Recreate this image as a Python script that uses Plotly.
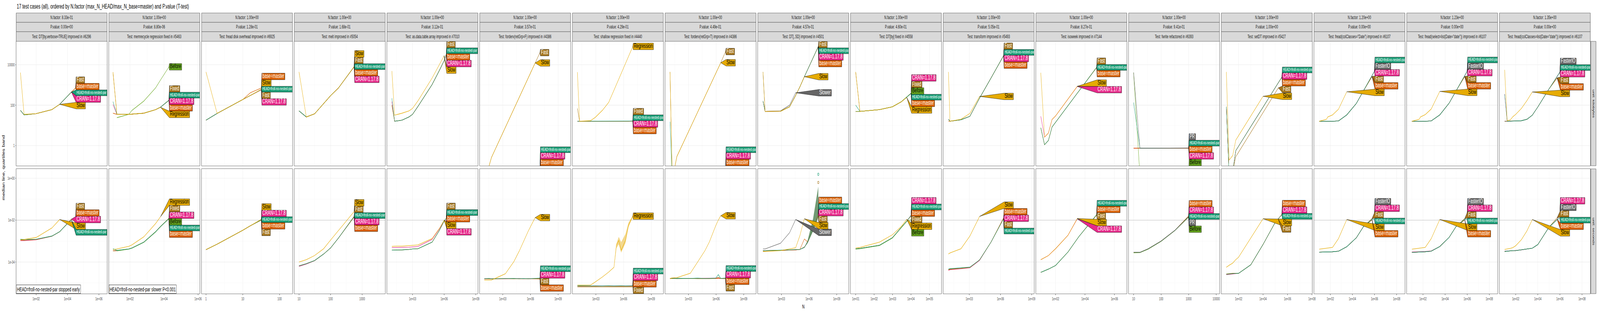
import math
import plotly.graph_objects as go

# ---------------------------------------------------------------- text / names
TITLE = "17 test cases (all), ordered by N.factor (max_N_HEAD/max_N_base=master) and P.value (T-test)"
HEAD = "HEAD=froll-no-nested-par"
CRAN = "CRAN=1.17.8"
BASE = "base=master"

N_FACTOR = ["8.33e-01", "1.00e+00", "1.00e+00", "1.00e+00", "1.00e+00", "1.00e+00", "1.00e+00",
            "1.00e+00", "1.00e+00", "1.00e+00", "1.00e+00", "1.00e+00", "1.00e+00", "1.00e+00",
            "1.20e+00", "1.23e+00", "1.35e+00"]
P_VALUE = ["0.00e+00", "8.80e-06", "1.28e-01", "1.68e-01", "3.12e-01", "3.57e-01", "4.29e-01",
           "4.49e-01", "4.57e-01", "4.60e-01", "5.05e-01", "8.27e-01", "9.41e-01", "1.00e+00",
           "0.00e+00", "0.00e+00", "0.00e+00"]
TEST = ["DT[by,verbose=TRUE] improved in #6296", "memrecycle regression fixed in #5463",
        "fread disk overhead improved in #6925", "melt improved in #5054",
        "as.data.table.array improved in #7010", "forderv(retGrp=F) improved in #4386",
        "shallow regression fixed in #4440", "forderv(retGrp=T) improved in #4386",
        "DT[,.SD] improved in #4501", "DT[by] fixed in #4558", "transform improved in #5493",
        "isoweek improved in #7144", "fwrite refactored in #6393", "setDT improved in #5427",
        'fread(colClasses="Date") improved in #6107',
        'fread(select=list(Date="date")) improved in #6107',
        'fread(colClasses=list(Date="date")) improved in #6107']
ROW_UNITS = ["unit: kilobytes", "unit: seconds"]
NOTES = {0: HEAD + " stopped early", 1: HEAD + " slower P&lt;0.001"}
HLINE_SECONDS = 0.01

# ---------------------------------------------------------------- data
p01_N = [10, 17, 100, 1000, 3160, 10000, 17800, 33000]
p01_kb = {
    "Slow": [4100, 35, 38, 60, 110, None, None, None],
    HEAD: [55, 33, 38, 60, 110, 280, 450, None],
    CRAN: [55, 33, 38, 60, 110, 280, 440, None],
    BASE: [55, 33, 38, 60, 110, 280, 450, 700],
    "Fast": [55, 33, 38, 60, 110, 280, 450, 730],
}
p01_sec = {
    "Slow": [1.15e-3, 1.2e-3, 1.48e-3, 4.2e-3, 1.07e-2, None, None, None],
    HEAD: [1.23e-3, 1.2e-3, 1.23e-3, 1.74e-3, 2.8e-3, 6.9e-3, 1.02e-2, None],
    CRAN: [1.05e-3, 1.05e-3, 1.15e-3, 1.7e-3, 2.8e-3, 6.9e-3, 1.12e-2, None],
    BASE: [1.1e-3, 1.1e-3, 1.18e-3, 1.72e-3, 2.8e-3, 7.0e-3, 1.1e-2, 1.15e-2],
    "Fast": [1.15e-3, 1.1e-3, 1.2e-3, 1.72e-3, 2.8e-3, 7.0e-3, 1.1e-2, 1.18e-2],
}

p02_N = [10, 17, 85, 130, 650, 3200, 6300, 19500]
p02_kb = {
    "Regression": [4300, 35, 35, 36, 40, 60, 78, None],
    HEAD: [150, 35, 35, 36, 40, 60, 80, 176],
    CRAN: [107, 35, 35, 36, 40, 60, 80, 174],
    BASE: [40, 35, 35, 36, 40, 60, 80, 172],
    "Fixed": [4300, 35, 35, 36, 40, 60, 80, 178],
    "Before": [None, 24, 35, 55, 160, 720, 1800, 7900],
}
p02_sec = {
    "Regression": [3.9e-4, 4.2e-4, 5.6e-4, 6.6e-4, 1.6e-3, 6.9e-3, 1.48e-2, None],
    HEAD: [4.3e-4, 3.6e-4, 4.2e-4, 4.7e-4, 8.9e-4, 2.8e-3, 5.0e-3, 1.18e-2],
    CRAN: [3.4e-4, 3.5e-4, 4.2e-4, 4.7e-4, 8.9e-4, 2.8e-3, 5.0e-3, 1.22e-2],
    BASE: [3.4e-4, 3.5e-4, 4.2e-4, 4.7e-4, 8.9e-4, 2.8e-3, 5.0e-3, 1.16e-2],
    "Fixed": [3.4e-4, 3.5e-4, 4.2e-4, 4.7e-4, 8.9e-4, 2.8e-3, 5.0e-3, 1.24e-2],
    "Before": [None, 3.4e-4, 4.1e-4, 4.6e-4, 8.7e-4, 2.7e-3, 5.0e-3, 1.2e-2],
}

p03_N = [1, 2, 10, 16, 32]
p03_kb = {
    "Slow": [4400, 39, 190, 300, 610],
    BASE: [18, 39, 190, 410, 710],
    HEAD: [18, 39, 190, 300, 600],
    "Fast": [18, 39, 190, 300, 590],
    CRAN: [18, 39, 190, 300, 580],
}
p03_sec = {
    "Slow": [3.9e-4, 7.1e-4, 3.3e-3, 5.4e-3, 1.1e-2],
    CRAN: [3.9e-4, 7.1e-4, 3.3e-3, 5.4e-3, 1.08e-2],
    HEAD: [3.9e-4, 7.1e-4, 3.3e-3, 5.4e-3, 1.05e-2],
    BASE: [3.9e-4, 7.1e-4, 3.3e-3, 5.4e-3, 1.03e-2],
    "Fast": [3.9e-4, 7.1e-4, 3.3e-3, 5.4e-3, 1.0e-2],
}

p04_N = [10, 17, 31, 60, 100, 178, 560]
p04_kb = {
    "Slow": [4400, 26, 37, 120, 295, 710, 8300],
    "Fast": [52, 26, 37, 120, 295, 710, 8200],
    HEAD: [52, 26, 37, 120, 295, 710, 8100],
    BASE: [52, 26, 37, 120, 295, 710, 8000],
    CRAN: [52, 26, 37, 120, 295, 710, 7900],
}
p04_sec = {
    "Slow": [1.0e-4, 1.29e-4, 2.04e-4, 4.3e-4, 1.12e-3, 3.2e-3, 2.6e-2],
    "Fast": [6.6e-5, 8.3e-5, 1.17e-4, 2.4e-4, 4.7e-4, 1.4e-3, 1.55e-2],
    HEAD: [6.6e-5, 8.3e-5, 1.17e-4, 2.4e-4, 4.7e-4, 1.4e-3, 1.5e-2],
    CRAN: [6.2e-5, 8.0e-5, 1.15e-4, 2.4e-4, 4.7e-4, 1.4e-3, 1.46e-2],
    BASE: [6.6e-5, 8.3e-5, 1.17e-4, 2.4e-4, 4.7e-4, 1.4e-3, 1.42e-2],
}

p05_N = [11, 20, 100, 460, 1000, 3200, 72000, 350000, 1000000, 1600000]
p05_kb = {
    "Slow": [4900, 32, 40, 52, 69, 160, 2200, 10000, 28000, None],
    HEAD: [220, 16, 18, 26, 35, 85, 1050, 5200, 16000, 33000],
    CRAN: [150, 16, 18, 26, 35, 85, 1050, 5200, 16000, 31000],
    BASE: [100, 16, 18, 26, 35, 85, 1050, 5200, 16000, 32000],
    "Fast": [100, 16, 18, 26, 35, 85, 1050, 5200, 16000, 34000],
}
p05_sec = {
    "Slow": [5.6e-4, 5.7e-4, 5.75e-4, 6.0e-4, 6.3e-4, 6.5e-4, 1.32e-3, 4.0e-3, 1.0e-2, None],
    CRAN: [4.9e-4, 4.9e-4, 5.0e-4, 5.1e-4, 5.2e-4, 5.5e-4, 1.2e-3, 3.8e-3, 9.0e-3, 9.5e-3],
    HEAD: [3.7e-4, 3.7e-4, 3.8e-4, 4.0e-4, 4.2e-4, 4.3e-4, 8.9e-4, 3.2e-3, 9.0e-3, 1.22e-2],
    BASE: [3.7e-4, 3.7e-4, 3.8e-4, 4.0e-4, 4.2e-4, 4.3e-4, 8.9e-4, 3.2e-3, 9.0e-3, 1.2e-2],
    "Fast": [3.7e-4, 3.7e-4, 3.8e-4, 4.0e-4, 4.2e-4, 4.3e-4, 8.9e-4, 3.2e-3, 9.0e-3, 1.25e-2],
}

p06_N = [10, 33, 60, 1900, 16000, 60000, 174000, 575000, 3200000, 10700000]
p06_kb = {
    "Slow": [0.02, 0.1, 0.26, 8.0, 66, 245, 700, 2300, 12300, None],
    "Fast": [0.02, 0.1, 0.26, 8.0, 66, 245, 700, 2300, 12300, 40000],
    HEAD: [0.02, 0.02, 0.02, 0.02, 0.02, 0.02, 0.02, 0.02, 0.02, 0.022],
    CRAN: [0.02, 0.02, 0.02, 0.02, 0.02, 0.02, 0.02, 0.02, 0.02, 0.021],
    BASE: [0.02, 0.02, 0.02, 0.02, 0.02, 0.02, 0.02, 0.02, 0.02, 0.020],
}
p06_sec = {
    "Slow": [1.38e-5, 1.38e-5, 1.38e-5, 2.75e-5, 1.05e-4, 3.3e-4, 9.5e-4, 3.0e-3, 1.32e-2, None],
    HEAD: [1.6e-5, 1.66e-5, 1.58e-5, 1.62e-5, 1.66e-5, 1.6e-5, 1.64e-5, 1.6e-5, 1.66e-5, 1.70e-5],
    CRAN: [1.55e-5, 1.6e-5, 1.62e-5, 1.58e-5, 1.6e-5, 1.63e-5, 1.58e-5, 1.62e-5, 1.6e-5, 1.65e-5],
    "Fast": [1.62e-5, 1.58e-5, 1.6e-5, 1.64e-5, 1.58e-5, 1.62e-5, 1.6e-5, 1.58e-5, 1.62e-5, 1.6e-5],
    BASE: [1.58e-5, 1.6e-5, 1.56e-5, 1.6e-5, 1.62e-5, 1.58e-5, 1.6e-5, 1.62e-5, 1.58e-5, 1.55e-5],
}

p07_N = [10, 17, 260, 870, 5200, 24000, 91000, 166000, 300000, 550000, 1600000, 3400000, 10000000]
p07_kb = {
    "Regression": [4300, 16, 17, 25, 56, 135, 550, 1050, 2000, 3700, 11500, 25700, 81000],
    "Fixed": [69, 16, 16, 16, 16, 16, 16, 16, 16, 16, 16, 16, 16.6],
    HEAD: [16, 16, 16, 16, 16, 16, 16, 16, 16, 16, 16, 16, 16.4],
    CRAN: [16, 16, 16, 16, 16, 16, 16, 16, 16, 16, 16, 16, 16.2],
    BASE: [16, 16, 16, 16, 16, 16, 16, 16, 16, 16, 16, 16, 16.0],
}
p07_sec = {
    "Regression": [7.9e-6, 7.9e-6, 7.9e-6, 1.12e-5, 1.95e-5, 3.3e-5, 5.6e-5, 6.3e-4, 1.07e-3,
                   3.6e-4, 1.07e-3, 5.75e-3, 1.55e-2],
    HEAD: [7.2e-6, 7.4e-6, 7.2e-6, 7.3e-6, 7.2e-6, 7.4e-6, 7.2e-6, 7.3e-6, 7.2e-6, 7.4e-6,
           7.2e-6, 7.3e-6, 7.4e-6],
    CRAN: [7.2e-6, 7.2e-6, 7.3e-6, 7.2e-6, 7.3e-6, 7.2e-6, 7.3e-6, 7.2e-6, 7.3e-6, 7.2e-6,
           7.3e-6, 7.2e-6, 7.2e-6],
    BASE: [7.1e-6, 7.0e-6, 7.1e-6, 7.0e-6, 7.1e-6, 7.0e-6, 7.1e-6, 7.0e-6, 7.1e-6, 7.0e-6,
           7.1e-6, 7.0e-6, 7.0e-6],
    "Fixed": [6.5e-6, 6.5e-6, 6.5e-6, 6.5e-6, 6.5e-6, 6.5e-6, 6.5e-6, 6.5e-6, 6.5e-6, 6.5e-6,
              6.5e-6, 6.5e-6, 6.5e-6],
}
# quartile band of the Regression timing in panel 7 (same N grid)
p07_sec_reg_q25 = [None, None, None, None, None, None, 5.6e-5, 4.5e-4, 7.0e-4, 2.8e-4, 8.0e-4, 4.5e-3, 1.45e-2]
p07_sec_reg_q75 = [None, None, None, None, None, None, 5.6e-5, 7.5e-4, 1.6e-3, 9.0e-4, 2.2e-3, 7.5e-3, 1.65e-2]

p08_N = [10, 17, 32, 56, 1600, 10000, 62000, 186000, 910000, 1740000, 3200000, 10700000]
p08_kb = {
    "Slow": [4400, 0.05, 0.08, 0.29, 7.6, 46, 270, 800, 3800, 7100, 12600, None],
    "Fast": [4400, 0.05, 0.08, 0.29, 7.6, 46, 270, 800, 3800, 7100, 12600, 45000],
    HEAD: [15, 0.02, 0.02, 0.02, 0.02, 0.02, 0.02, 0.02, 0.02, 0.02, 0.02, 0.022],
    CRAN: [0.02, 0.02, 0.02, 0.02, 0.02, 0.02, 0.02, 0.02, 0.02, 0.02, 0.02, 0.021],
    BASE: [0.02, 0.02, 0.02, 0.02, 0.02, 0.02, 0.02, 0.02, 0.02, 0.02, 0.02, 0.020],
}
p08_sec = {
    "Slow": [1.66e-5, 1.74e-5, 1.78e-5, 1.8e-5, 2.9e-5, 1.0e-4, 3.5e-4, 9.1e-4, 5.4e-3, 1.0e-2,
             1.62e-2, None],
    HEAD: [1.66e-5, 1.7e-5, 1.64e-5, 1.68e-5, 1.66e-5, 1.7e-5, 1.64e-5, 1.68e-5, 1.7e-5, 2.5e-5,
           1.66e-5, 1.72e-5],
    CRAN: [1.62e-5, 1.66e-5, 1.7e-5, 1.64e-5, 1.66e-5, 1.62e-5, 1.68e-5, 1.64e-5, 1.66e-5,
           1.7e-5, 1.64e-5, 1.68e-5],
    BASE: [1.64e-5, 1.62e-5, 1.66e-5, 1.68e-5, 1.62e-5, 1.66e-5, 1.64e-5, 1.66e-5, 1.62e-5,
           1.66e-5, 1.64e-5, 1.64e-5],
    "Fast": [1.6e-5, 1.64e-5, 1.62e-5, 1.6e-5, 1.64e-5, 1.6e-5, 1.62e-5, 1.6e-5, 1.64e-5,
             1.9e-5, 1.62e-5, 1.6e-5],
}

p09_N = [10, 17, 800, 7600, 35000, 100000, 310000, 710000, 2750000, 10000000]
p09_kb = {
    "Slow": [4400, 49, 50, 83, 300, 800, 2570, None, None, None],
    "Slower": [4400, 49, 52, 100, 410, None, None, None, None, None],
    HEAD: [160, 49, 50, 83, 300, 800, 2570, 5800, 22000, 80000],
    CRAN: [160, 49, 50, 83, 300, 800, 2570, 5800, 22000, 79000],
    BASE: [160, 49, 50, 83, 300, 800, 2570, 5800, 22000, 78000],
    "Fast": [160, 49, 50, 83, 300, 800, 2570, 5800, 22000, 81000],
}
p09_sec = {
    HEAD: [3.5e-4, 3.5e-4, 3.7e-4, 3.8e-4, 3.9e-4, 4.0e-4, 5.0e-4, 9.1e-4, 4.0e-3, 1.8e-2],
    CRAN: [3.4e-4, 3.5e-4, 3.6e-4, 3.7e-4, 3.8e-4, 4.0e-4, 5.0e-4, 9.1e-4, 4.0e-3, 1.7e-2],
    "Fast": [3.5e-4, 3.5e-4, 3.6e-4, 3.8e-4, 3.9e-4, 4.0e-4, 5.2e-4, 9.1e-4, 4.0e-3, 1.6e-2],
    BASE: [3.4e-4, 3.5e-4, 3.6e-4, 3.7e-4, 3.8e-4, 4.0e-4, 1.26e-3, 9.1e-4, 4.0e-3, 2.0e-2],
    "Slower": [4.2e-4, 4.2e-4, 7.9e-4, 2.5e-3, 1.07e-2, None, None, None, None, None],
    "Slow": [3.2e-4, 3.2e-4, 3.5e-4, 4.2e-4, 4.8e-4, 1.8e-3, 1.17e-2, None, None, None],
}
# quartile band of the HEAD timing in panel 9 and its two outlying maxima
p09_sec_head_q25 = [None, None, None, None, None, None, 5.0e-4, 8.0e-4, 3.0e-3, 1.3e-2]
p09_sec_head_q75 = [None, None, None, None, None, None, 5.0e-4, 1.1e-3, 1.2e-2, 4.0e-1]
p09_sec_outlier_N = [10000000, 10000000]
p09_sec_outlier_s = [1.55, 0.63]
p09_sec_outlier_series = [HEAD, "Fast"]

p10_N = [10, 17, 195, 980, 3000, 5900, 10200]
p10_kb = {
    "Regression": [4400, 49, 60, 83, 148, 240, None],
    HEAD: [100, 49, 60, 83, 148, 250, 385],
    CRAN: [49, 49, 60, 83, 148, 250, 400],
    BASE: [49, 49, 60, 83, 148, 250, 380],
    "Fixed": [4400, 49, 60, 83, 148, 250, 395],
    "Before": [49, 49, 60, 83, 148, 250, 390],
}
p10_sec = {
    "Regression": [4.7e-4, 5.0e-4, 8.9e-4, 2.0e-3, 5.0e-3, 1.1e-2, None],
    HEAD: [4.3e-4, 4.5e-4, 6.3e-4, 1.45e-3, 4.5e-3, 8.9e-3, 1.7e-2],
    CRAN: [4.2e-4, 4.4e-4, 6.2e-4, 1.45e-3, 4.5e-3, 8.9e-3, 1.75e-2],
    BASE: [4.3e-4, 4.5e-4, 6.3e-4, 1.45e-3, 4.5e-3, 8.9e-3, 1.65e-2],
    "Fixed": [4.3e-4, 4.5e-4, 6.3e-4, 1.45e-3, 4.5e-3, 8.9e-3, 1.6e-2],
    "Before": [4.1e-4, 4.3e-4, 6.1e-4, 1.4e-3, 4.4e-3, 8.7e-3, 1.05e-2],
}

p11_N = [10, 14, 160, 1150, 9800, 126000, 2000000]
p11_kb = {
    "Slow": [4400, 16, 20, 39, 270, None, None],
    HEAD: [20, 16, 19, 28, 224, 2240, 28500],
    CRAN: [20, 16, 19, 28, 224, 2240, 28000],
    BASE: [16, 16, 19, 28, 224, 2240, 27500],
    "Fast": [20, 16, 19, 28, 224, 2240, 29000],
}
p11_sec = {
    "Slow": [2.4e-4, 2.7e-4, 4.3e-4, 1.74e-3, 1.5e-2, None, None],
    HEAD: [4.6e-5, 4.8e-5, 5.3e-5, 5.7e-5, 1.26e-4, 9.1e-4, 1.15e-2],
    CRAN: [4.0e-5, 4.3e-5, 4.8e-5, 5.3e-5, 1.2e-4, 9.1e-4, 1.25e-2],
    BASE: [4.2e-5, 4.5e-5, 5.0e-5, 5.5e-5, 1.26e-4, 9.1e-4, 1.3e-2],
    "Fast": [4.4e-5, 4.7e-5, 5.0e-5, 5.6e-5, 1.26e-4, 9.1e-4, 1.2e-2],
}

p12_N = [10, 18, 33, 58, 100, 700, 3000, 3800, 62000]
p12_kb = {
    "Slow": [4000, 2.6, 4.2, 19.5, 29, 200, 860, None, None],
    CRAN: [28, 2.6, 4.2, 19.5, 29, 200, 840, None, None],
    HEAD: [7.6, 1.1, 1.8, 8.3, 14, 96, 390, 490, 7400],
    BASE: [7.6, 1.1, 1.8, 8.3, 14, 96, 390, 490, 7200],
    "Fast": [7.6, 1.1, 1.8, 8.3, 14, 96, 390, 490, 7600],
}
p12_sec = {
    "Slow": [1.29e-4, 1.6e-4, 2.04e-4, 3.0e-4, 4.3e-4, 1.9e-3, 1.2e-2, None, None],
    CRAN: [1.29e-4, 1.6e-4, 2.04e-4, 3.0e-4, 4.3e-4, 1.9e-3, 1.15e-2, None, None],
    HEAD: [3.2e-5, 3.8e-5, 4.6e-5, 5.6e-5, 6.8e-5, 3.0e-4, 1.29e-3, 1.62e-3, 1.85e-2],
    BASE: [3.2e-5, 3.8e-5, 4.6e-5, 5.6e-5, 6.8e-5, 3.0e-4, 1.29e-3, 1.62e-3, 1.78e-2],
    "Fast": [3.2e-5, 3.8e-5, 4.6e-5, 5.6e-5, 6.8e-5, 3.0e-4, 1.29e-3, 1.62e-3, 1.72e-2],
}

p13_N = [10, 17, 34, 100, 320, 1000]
p13_kb = {
    "PR": [4200, 0.74, 0.74, 0.74, 0.74, 0.76],
    HEAD: [135, 0.74, 0.74, 0.74, 0.74, 0.75],
    BASE: [0.74, 0.74, 0.74, 0.74, 0.74, 0.74],
    CRAN: [0.74, 0.74, 0.74, 0.74, 0.74, 0.73],
    "Before": [4000, 0.03, 0.03, 0.03, 0.03, 0.03],
}
p13_sec = {
    BASE: [2.95e-4, 2.9e-4, 4.3e-4, 1.0e-3, 3.3e-3, 1.6e-2],
    CRAN: [2.95e-4, 2.9e-4, 4.3e-4, 1.0e-3, 3.3e-3, 1.55e-2],
    HEAD: [2.95e-4, 2.9e-4, 4.3e-4, 1.0e-3, 3.3e-3, 1.5e-2],
    "PR": [2.95e-4, 2.9e-4, 4.3e-4, 1.0e-3, 3.3e-3, 1.45e-2],
    "Before": [2.75e-4, 2.8e-4, 4.1e-4, 0.97e-3, 3.2e-3, 1.4e-2],
}

p14_N = [10, 17, 33, 59, 100, 510, 1000, 10000, 107000, 178000, 350000]
p14_kb = {
    "Slow": [4400, 0.19, 0.32, 1.86, 3.1, 15, 29.5, 275, None, None, None],
    HEAD: [83, 0.03, 0.05, 0.56, 0.93, 4.6, 8.7, 80, 800, 1300, 2500],
    CRAN: [83, 0.03, 0.05, 0.56, 0.93, 4.6, 8.7, 80, 800, 1300, 2450],
    BASE: [83, 0.03, 0.05, 0.56, 0.93, 4.6, 8.7, 80, 800, 1300, 2400],
    "Fast": [83, 0.03, 0.05, 0.28, 0.47, 2.3, 4.5, 43, 440, 720, None],
}
p14_sec = {
    "Slow": [5.6e-5, 7.0e-5, 8.9e-5, 1.3e-4, 1.7e-4, 7.6e-4, 1.45e-3, 1.17e-2, None, None, None],
    HEAD: [2.6e-5, 2.7e-5, 2.8e-5, 2.85e-5, 2.9e-5, 5.6e-5, 7.4e-5, 6.9e-4, 8.5e-3, 1.17e-2, 1.8e-2],
    CRAN: [2.5e-5, 2.6e-5, 2.7e-5, 2.8e-5, 2.9e-5, 5.6e-5, 7.4e-5, 6.9e-4, 8.5e-3, 1.17e-2, 1.85e-2],
    BASE: [2.6e-5, 2.7e-5, 2.8e-5, 2.85e-5, 2.9e-5, 5.6e-5, 7.4e-5, 6.9e-4, 8.5e-3, 1.17e-2, 1.9e-2],
    "Fast": [2.7e-5, 2.8e-5, 2.9e-5, 2.9e-5, 2.9e-5, 5.6e-5, 7.4e-5, 6.9e-4, 8.5e-3, 1.1e-2, None],
}

p15_N = [10, 45, 59, 160, 550, 3100, 23000, 100000, 600000, 1000000]
p15_kb = {
    "Slow": [16, 20, 26, 33, 63, 460, None, None, None, None],
    HEAD: [16, 16, 16, 16, 16.6, 33, 123, 510, 2950, 4900],
    "FasterIO": [16, 16, 16, 16, 16.6, 33, 123, 510, 2950, 4800],
    CRAN: [16, 16, 16, 16, 16.6, 33, 123, 510, 2950, 4700],
    "Fast": [16, 16, 16, 16, 16.6, 33, 123, 510, 2650, None],
    BASE: [16, 16, 16, 16, 16.6, 33, 123, 510, 2600, None],
}
p15_sec = {
    "Slow": [4.1e-4, 4.5e-4, 4.7e-4, 5.0e-4, 1.32e-3, 1.07e-2, None, None, None, None],
    HEAD: [2.95e-4, 3.0e-4, 3.0e-4, 3.1e-4, 3.3e-4, 5.4e-4, 1.45e-3, 4.9e-3, 1.1e-2, 1.12e-2],
    "FasterIO": [2.95e-4, 3.0e-4, 3.0e-4, 3.1e-4, 3.3e-4, 5.4e-4, 1.45e-3, 4.9e-3, 1.1e-2, 1.85e-2],
    CRAN: [2.95e-4, 3.0e-4, 3.0e-4, 3.1e-4, 3.3e-4, 5.4e-4, 1.45e-3, 4.9e-3, 1.1e-2, 1.8e-2],
    "Fast": [2.95e-4, 3.0e-4, 3.0e-4, 3.1e-4, 3.3e-4, 5.4e-4, 1.45e-3, 4.9e-3, 1.2e-2, None],
    BASE: [2.95e-4, 3.0e-4, 3.0e-4, 3.1e-4, 3.3e-4, 5.4e-4, 1.45e-3, 4.9e-3, 1.02e-2, None],
}

p16_N = [10, 45, 59, 160, 550, 3300, 23000, 100000, 600000, 1000000]
p16_kb = {
    "Slow": [16, 20, 26, 34, 64, 480, None, None, None, None],
    HEAD: [16, 16, 16, 16, 16.6, 33, 125, 520, 2950, 4900],
    "FasterIO": [16, 16, 16, 16, 16.6, 33, 125, 520, 2950, 4800],
    CRAN: [16, 16, 16, 16, 16.6, 33, 125, 520, 2950, 4700],
    "Fast": [16, 16, 16, 16, 16.6, 33, 125, 520, 2650, None],
    BASE: [16, 16, 16, 16, 16.6, 33, 125, 520, 2600, None],
}
p16_sec = {
    "Slow": [4.1e-4, 4.5e-4, 4.7e-4, 5.0e-4, 1.3e-3, 1.07e-2, None, None, None, None],
    HEAD: [2.9e-4, 3.0e-4, 3.0e-4, 3.1e-4, 3.3e-4, 5.5e-4, 1.5e-3, 5.0e-3, 1.1e-2, 1.12e-2],
    "FasterIO": [2.9e-4, 3.0e-4, 3.0e-4, 3.1e-4, 3.3e-4, 5.5e-4, 1.5e-3, 5.0e-3, 1.1e-2, 1.85e-2],
    CRAN: [3.0e-4, 3.1e-4, 3.1e-4, 3.2e-4, 3.4e-4, 5.5e-4, 1.5e-3, 5.0e-3, 1.1e-2, 1.8e-2],
    "Fast": [2.9e-4, 3.0e-4, 3.0e-4, 3.1e-4, 3.3e-4, 5.5e-4, 1.5e-3, 5.0e-3, 1.2e-2, None],
    BASE: [2.9e-4, 3.0e-4, 3.0e-4, 3.1e-4, 3.3e-4, 5.5e-4, 1.5e-3, 5.0e-3, 1.02e-2, None],
}

p17_N = [10, 17, 32, 56, 100, 330, 1050, 3200, 10000, 100000, 560000, 1000000]
p17_kb = {
    "Slow": [5600, 17, 18.5, 27, 35, 69, 170, 450, None, None, None, None],
    HEAD: [350, 16, 16, 16, 16.5, 17, 20, 32, 81, 620, 2600, 4300],
    CRAN: [350, 16, 16, 16, 16.5, 17, 20, 32, 81, 620, 2600, 4200],
    "FasterIO": [16, 16, 16, 16, 16.5, 17, 20, 32, 81, 620, 2600, 4400],
    "Fast": [16, 16, 16, 16, 16.5, 17, 20, 32, 81, 620, 2250, None],
    BASE: [16, 16, 16, 16, 16.5, 17, 20, 32, 81, 620, 2200, None],
}
p17_sec = {
    "Slow": [4.0e-4, 4.2e-4, 4.5e-4, 4.9e-4, 6.0e-4, 1.17e-3, 3.1e-3, 1.07e-2, None, None, None, None],
    HEAD: [3.2e-4, 3.3e-4, 3.4e-4, 3.5e-4, 3.5e-4, 3.8e-4, 4.2e-4, 4.6e-4, 6.8e-4, 4.5e-3, 1.07e-2, 1.25e-2],
    CRAN: [3.3e-4, 3.4e-4, 3.4e-4, 3.5e-4, 3.6e-4, 3.8e-4, 4.2e-4, 4.6e-4, 6.8e-4, 4.5e-3, 1.07e-2, 2.2e-2],
    "FasterIO": [3.2e-4, 3.3e-4, 3.4e-4, 3.5e-4, 3.5e-4, 3.8e-4, 4.2e-4, 4.6e-4, 6.8e-4, 4.5e-3, 1.07e-2, 2.1e-2],
    "Fast": [3.2e-4, 3.3e-4, 3.4e-4, 3.5e-4, 3.5e-4, 3.8e-4, 4.2e-4, 4.6e-4, 6.8e-4, 4.5e-3, 1.3e-2, None],
    BASE: [3.2e-4, 3.3e-4, 3.4e-4, 3.5e-4, 3.5e-4, 3.8e-4, 4.2e-4, 4.6e-4, 6.8e-4, 4.5e-3, 1.1e-2, None],
}

PANELS = [(p01_N, p01_kb, p01_sec), (p02_N, p02_kb, p02_sec), (p03_N, p03_kb, p03_sec),
          (p04_N, p04_kb, p04_sec), (p05_N, p05_kb, p05_sec), (p06_N, p06_kb, p06_sec),
          (p07_N, p07_kb, p07_sec), (p08_N, p08_kb, p08_sec), (p09_N, p09_kb, p09_sec),
          (p10_N, p10_kb, p10_sec), (p11_N, p11_kb, p11_sec), (p12_N, p12_kb, p12_sec),
          (p13_N, p13_kb, p13_sec), (p14_N, p14_kb, p14_sec), (p15_N, p15_kb, p15_sec),
          (p16_N, p16_kb, p16_sec), (p17_N, p17_kb, p17_sec)]
# (panel index, row index, series) -> quartile band lists on that panel's N grid
BANDS = {(6, 1, "Regression"): (p07_sec_reg_q25, p07_sec_reg_q75),
         (8, 1, HEAD): (p09_sec_head_q25, p09_sec_head_q75)}
OUTLIERS = {(8, 1): (p09_sec_outlier_N, p09_sec_outlier_s, p09_sec_outlier_series)}

# ---------------------------------------------------------------- styling / layout
SERIES_COLOR = {HEAD: "#1B9E77", BASE: "#D95F02", CRAN: "#E7298A", "Before": "#66A61E",
                "Slow": "#E6AB02", "Regression": "#E6AB02", "Fast": "#A6761D", "Fixed": "#A6761D",
                "FasterIO": "#666666", "Slower": "#666666", "PR": "#666666"}
BAND_FILL = {HEAD: "rgba(88,138,92,0.85)", "Regression": "rgba(230,171,2,0.45)"}
DARK_TEXT = {"Slow", "Regression", "Before"}
DRAW_ORDER = [CRAN, BASE, "Fast", "Fixed", "FasterIO", "Before", HEAD, "PR", "Slower", "Slow",
              "Regression"]
FONT = "Liberation Sans, Arial, Helvetica, sans-serif"

FIG_W, FIG_H = 6800, 800
PANEL_LEFT0, PANEL_PITCH, PANEL_W = 69, 394.8, 387
ROW_TOP, ROW_BOT = [106, 433], [425, 753]
STRIP_EDGES = [33.3, 57.3, 81.3, 106]
RSTRIP_X = (6775, 6797)
Y_RANGE = [(-1.0, 5.16), (-5.51, 0.447)]
X_RANGE = [(0.73, 6.52), (0.76, 6.1), (-0.12, 2.35), (0.85, 3.73), (0.58, 9.2), (0.5, 10.35),
           (0.46, 10.3), (0.47, 10.33), (0.44, 10.3), (0.72, 5.65), (0.5, 9.23), (0.67, 6.84),
           (0.82, 4.12), (0.59, 8.02), (0.53, 8.75), (0.53, 8.75), (0.53, 8.75)]
X_STEP = [2, 2, 1, 1, 3, 3, 3, 3, 3, 1, 3, 2, 1, 2, 2, 2, 2]
X_PLAIN = [False, False, True, True, False, False, False, False, False, False, False, False,
           True, False, False, False, False]

CW = {' ': 278, '=': 584, '-': 333, '.': 278, ':': 278, '(': 333, ')': 333, '<': 584}
for _c in '0123456789':
    CW[_c] = 556
CW.update(dict(A=667, B=667, C=722, D=722, E=667, F=611, G=778, H=722, I=278, J=500, K=667,
               L=556, M=833, N=722, O=778, P=667, Q=778, R=722, S=667, T=611, U=722, V=667,
               W=944, X=667, Y=667, Z=611, a=556, b=556, c=500, d=556, e=556, f=278, g=556,
               h=556, i=222, j=222, k=500, l=222, m=833, n=556, o=556, p=556, q=556, r=333,
               s=500, t=278, u=556, v=500, w=722, x=500, y=500, z=500))


def text_w(s, size):
    return sum(CW.get(ch, 556) for ch in s) / 1000.0 * size


def fmt_exp(e, plain):
    if plain:
        return str(10 ** e) if e >= 0 else "1e-%02d" % (-e)
    return "1e%s%02d" % ("+" if e >= 0 else "-", abs(e))


def ticks_for(lo, hi, step, plain):
    rng = range(math.floor(lo) - 3, math.ceil(hi) + 4)
    majors = [e for e in rng if e % step == 0 and lo <= e <= hi]
    minors = [e + step / 2.0 for e in rng if e % step == 0 and lo <= e + step / 2.0 <= hi]
    return ([10 ** e for e in majors], [fmt_exp(e, plain) for e in majors],
            [10 ** m for m in minors])


def stack_labels(labels, top, bot):
    labels.sort(key=lambda d: d["target"])
    cl = [{"m": [l], "top": l["target"] - l["h"] / 2.0, "H": l["h"]} for l in labels]
    while True:
        for c in cl:
            c["top"] = min(max(c["top"], top), bot - c["H"])
        merged = False
        for j in range(len(cl) - 1):
            a, b = cl[j], cl[j + 1]
            if a["top"] + a["H"] > b["top"] + 1e-6:
                m = a["m"] + b["m"]
                H = a["H"] + b["H"]
                mean = sum(l["target"] for l in m) / len(m)
                cl[j:j + 2] = [{"m": m, "top": mean - H / 2.0, "H": H}]
                merged = True
                break
        if not merged:
            break
    for c in cl:
        y = c["top"]
        for l in c["m"]:
            l["top"] = y
            y += l["h"]


fig = go.Figure()
layout = {}
annotations = []
shapes = []
band_traces, line_traces, poly_traces, text_traces, ref_traces = [], [], [], [], []

for i, (N, kb, sec) in enumerate(PANELS):
    xa, xb = X_RANGE[i]
    left = PANEL_LEFT0 + i * PANEL_PITCH
    xt_vals, xt_text, x_minor = ticks_for(xa, xb, X_STEP[i], X_PLAIN[i])
    for r, series in enumerate((kb, sec)):
        k = r * 17 + i + 1
        xs = "x" if k == 1 else "x%d" % k
        ys = "y" if k == 1 else "y%d" % k
        ymin, ymax = Y_RANGE[r]
        top, bot = ROW_TOP[r], ROW_BOT[r]
        yt_vals, yt_text, y_minor = ticks_for(ymin, ymax, 2, r == 0)
        layout["xaxis" if k == 1 else "xaxis%d" % k] = dict(
            type="log", range=[xa, xb], domain=[left / FIG_W, (left + PANEL_W) / FIG_W],
            anchor=ys, showgrid=True, gridcolor="#EBEBEB", gridwidth=1.1, zeroline=False,
            showline=True, mirror=True, linecolor="#4D4D4D", linewidth=1,
            tickmode="array", tickvals=xt_vals, ticktext=xt_text, showticklabels=(r == 1),
            ticks="outside" if r == 1 else "", ticklen=3, tickcolor="#333333",
            tickfont=dict(size=11, color="#4D4D4D", family=FONT),
            minor=dict(tickmode="array", tickvals=x_minor, showgrid=True, gridcolor="#F2F2F2",
                       gridwidth=0.6, ticks=""),
            fixedrange=True)
        layout["yaxis" if k == 1 else "yaxis%d" % k] = dict(
            type="log", range=[ymin, ymax],
            domain=[1 - bot / FIG_H, 1 - top / FIG_H], anchor=xs, showgrid=True,
            gridcolor="#EBEBEB", gridwidth=1.1, zeroline=False, showline=True, mirror=True,
            linecolor="#4D4D4D", linewidth=1, tickmode="array", tickvals=yt_vals,
            ticktext=yt_text, showticklabels=(i == 0), ticks="outside" if i == 0 else "",
            ticklen=3, tickcolor="#333333", tickfont=dict(size=11, color="#4D4D4D", family=FONT),
            minor=dict(tickmode="array", tickvals=y_minor, showgrid=True, gridcolor="#F2F2F2",
                       gridwidth=0.6, ticks=""),
            fixedrange=True)

        if r == 1:
            ref_traces.append(go.Scatter(x=[10 ** xa, 10 ** xb], y=[HLINE_SECONDS, HLINE_SECONDS],
                                         mode="lines", line=dict(color="#BDBDBD", width=1.1),
                                         xaxis=xs, yaxis=ys, hoverinfo="skip", showlegend=False))

        def xpx(lx):
            return left + (lx - xa) / (xb - xa) * PANEL_W

        def ypx(ly):
            return top + (ymax - ly) / (ymax - ymin) * (bot - top)

        def xinv(px):
            return xa + (px - left) / PANEL_W * (xb - xa)

        def yinv(py):
            return ymax - (py - top) / (bot - top) * (ymax - ymin)

        names = sorted(series.keys(), key=lambda n: DRAW_ORDER.index(n))
        labels = []
        for name in names:
            band = BANDS.get((i, r, name))
            if band is not None:
                bpts = [(n, lo, hi) for n, lo, hi in zip(N, band[0], band[1]) if lo is not None]
                band_traces.append(go.Scatter(
                    x=[p[0] for p in bpts] + [p[0] for p in bpts[::-1]],
                    y=[p[2] for p in bpts] + [p[1] for p in bpts[::-1]],
                    mode="lines", fill="toself", fillcolor=BAND_FILL[name],
                    line=dict(width=0), xaxis=xs, yaxis=ys, hoverinfo="skip",
                    showlegend=False))
            pts = [(n, v) for n, v in zip(N, series[name]) if v is not None]
            line_traces.append(go.Scatter(
                x=[p[0] for p in pts], y=[p[1] for p in pts], mode="lines",
                line=dict(color=SERIES_COLOR[name], width=1.3), xaxis=xs, yaxis=ys,
                hoverinfo="skip", showlegend=False))
            ex, ey = math.log10(pts[-1][0]), math.log10(pts[-1][1])
            small = name == HEAD
            size = 11 if small else 16
            labels.append(dict(name=name, tipx=xpx(ex), tipy=ypx(ey), target=ypx(ey),
                               size=size, h=15.0 if small else 16.8,
                               w=text_w(name, size) + 5))
        out = OUTLIERS.get((i, r))
        if out is not None:
            line_traces.append(go.Scatter(
                x=out[0], y=out[1], mode="markers",
                marker=dict(symbol="circle-open", size=6,
                            color=[SERIES_COLOR[s] for s in out[2]], line=dict(width=1.3)),
                xaxis=xs, yaxis=ys, hoverinfo="skip", showlegend=False))
        lab_left = max(l["tipx"] for l in labels) + 2
        stack_labels(labels, top, bot)
        for l in labels:
            T, h, w = l["top"], l["h"], l["w"]
            px_pts = [(l["tipx"], l["tipy"]), (lab_left, T), (lab_left + w, T),
                      (lab_left + w, T + h), (lab_left, T + h), (l["tipx"], l["tipy"])]
            poly_traces.append(go.Scatter(
                x=[10 ** xinv(p[0]) for p in px_pts], y=[10 ** yinv(p[1]) for p in px_pts],
                mode="lines", fill="toself", fillcolor=SERIES_COLOR[l["name"]],
                line=dict(color="#000000", width=0.8), xaxis=xs, yaxis=ys,
                hoverinfo="skip", showlegend=False))
            text_traces.append(go.Scatter(
                x=[10 ** xinv(lab_left + 2)], y=[10 ** yinv(T + h / 2.0)], mode="text",
                text=[l["name"]], textposition="middle right",
                textfont=dict(size=l["size"], family=FONT,
                              color="#000000" if l["name"] in DARK_TEXT else "#FFFFFF"),
                xaxis=xs, yaxis=ys, hoverinfo="skip", showlegend=False))

        if r == 1 and i in NOTES:
            annotations.append(dict(
                text=NOTES[i], xref=("x" if k == 1 else "x%d" % k) + " domain",
                yref=("y" if k == 1 else "y%d" % k) + " domain", x=0, y=0, xanchor="left",
                yanchor="bottom", showarrow=False, bgcolor="#FFFFFF", bordercolor="#333333",
                borderwidth=1, borderpad=2, font=dict(size=15, color="#000000", family=FONT)))

    strip_texts = ["N.factor: " + N_FACTOR[i], "P.value: " + P_VALUE[i], "Test: " + TEST[i]]
    for s in range(3):
        y0, y1 = STRIP_EDGES[s], STRIP_EDGES[s + 1]
        shapes.append(dict(type="rect", xref="paper", yref="paper", x0=left / FIG_W,
                           x1=(left + PANEL_W) / FIG_W, y0=1 - y1 / FIG_H, y1=1 - y0 / FIG_H,
                           fillcolor="#D9D9D9", line=dict(color="#4D4D4D", width=1)))
        annotations.append(dict(text=strip_texts[s], xref="paper", yref="paper",
                                x=(left + PANEL_W / 2.0) / FIG_W, y=1 - (y0 + y1) / 2.0 / FIG_H,
                                xanchor="center", yanchor="middle", showarrow=False,
                                font=dict(size=12, color="#1A1A1A", family=FONT)))

for r in range(2):
    shapes.append(dict(type="rect", xref="paper", yref="paper", x0=RSTRIP_X[0] / FIG_W,
                       x1=RSTRIP_X[1] / FIG_W, y0=1 - ROW_BOT[r] / FIG_H, y1=1 - ROW_TOP[r] / FIG_H,
                       fillcolor="#D9D9D9", line=dict(color="#4D4D4D", width=1)))
    annotations.append(dict(text=ROW_UNITS[r], xref="paper", yref="paper",
                            x=(RSTRIP_X[0] + RSTRIP_X[1]) / 2.0 / FIG_W,
                            y=1 - (ROW_TOP[r] + ROW_BOT[r]) / 2.0 / FIG_H, textangle=90,
                            xanchor="center", yanchor="middle", showarrow=False,
                            font=dict(size=12, color="#1A1A1A", family=FONT)))

annotations.append(dict(text=TITLE, xref="paper", yref="paper", x=PANEL_LEFT0 / FIG_W,
                        y=1 - 16 / FIG_H, xanchor="left", yanchor="middle", showarrow=False,
                        font=dict(size=17, color="#000000", family=FONT)))
annotations.append(dict(text="median line, quartiles band", xref="paper", yref="paper",
                        x=15 / FIG_W, y=1 - (ROW_TOP[0] + ROW_BOT[1]) / 2.0 / FIG_H,
                        textangle=-90, xanchor="center", yanchor="middle", showarrow=False,
                        font=dict(size=14, color="#000000", family=FONT)))
last_right = PANEL_LEFT0 + 16 * PANEL_PITCH + PANEL_W
annotations.append(dict(text="N", xref="paper", yref="paper",
                        x=(PANEL_LEFT0 + last_right) / 2.0 / FIG_W, y=1 - 786 / FIG_H,
                        xanchor="center", yanchor="middle", showarrow=False,
                        font=dict(size=14, color="#000000", family=FONT)))

for t in ref_traces + band_traces + line_traces + poly_traces + text_traces:
    fig.add_trace(t)

fig.update_layout(width=FIG_W, height=FIG_H, autosize=False,
                  margin=dict(l=0, r=0, t=0, b=0), plot_bgcolor="#FFFFFF",
                  paper_bgcolor="#FFFFFF", showlegend=False, annotations=annotations,
                  shapes=shapes, font=dict(family=FONT), **layout)

# fit the 6800x800 design into whatever viewport the page actually gets
FIT_SCRIPT = (
    "var gd=document.getElementById('{plot_id}');"
    "document.documentElement.style.margin='0';document.body.style.margin='0';"
    "document.documentElement.style.overflow='hidden';document.body.style.overflow='hidden';"
    "var vw=Math.min(window.innerWidth||6800, document.documentElement.clientWidth||6800);"
    "var vh=Math.min(window.innerHeight||800, document.documentElement.clientHeight||800);"
    "var sx=Math.min(1, vw/6800), sy=Math.min(1, vh/800);"
    "if(sx<1||sy<1){gd.style.transformOrigin='0 0';"
    "gd.style.transform='scale('+sx+','+sy+')';}"
)

fig.write_html("out.html", config={"displayModeBar": False, "staticPlot": True},
               post_script=FIT_SCRIPT)
